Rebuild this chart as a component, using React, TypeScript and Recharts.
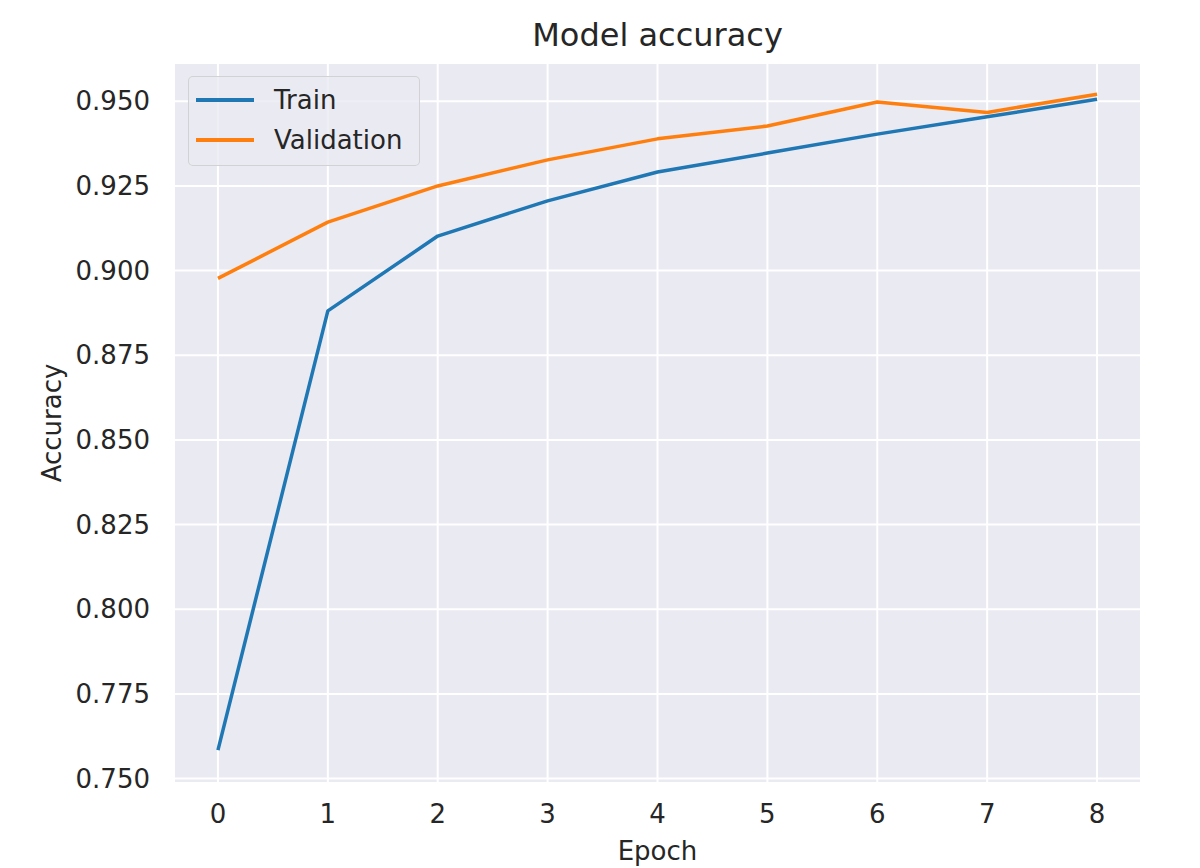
import React from 'react';
import { LineChart, Line, XAxis, YAxis, CartesianGrid, Legend } from 'recharts';

const epochs = [0, 1, 2, 3, 4, 5, 6, 7, 8];
const trainAcc = [0.7584, 0.8881, 0.9102, 0.9206, 0.9291, 0.9347, 0.9403, 0.9454, 0.9506];
const valAcc = [0.8977, 0.9143, 0.925, 0.9327, 0.9389, 0.9427, 0.9498, 0.9467, 0.9521];

const xTicks = [0, 1, 2, 3, 4, 5, 6, 7, 8];
const yTicks = [0.75, 0.775, 0.8, 0.825, 0.85, 0.875, 0.9, 0.925, 0.95];

const TEXT = '#262626';
const FONT = '"DejaVu Sans", sans-serif';

const rows = epochs.map((e, i) => ({ epoch: e, train: trainAcc[i], val: valAcc[i] }));

const series = [
  { key: 'train', name: 'Train', color: '#1f77b4' },
  { key: 'val', name: 'Validation', color: '#ff7f0e' },
];

// matplotlib-style legend box (framed, slightly rounded)
function LegendBox() {
  return (
    <div
      style={{
        boxSizing: 'border-box',
        width: 232,
        height: 90,
        paddingTop: 3,
        border: '1.5px solid rgba(204,204,204,0.8)',
        borderRadius: 5,
        background: 'rgba(234,234,242,0.8)',
        fontFamily: FONT,
        fontSize: 26,
        color: TEXT,
      }}
    >
      {series.map((s) => (
        <div key={s.key} style={{ display: 'flex', alignItems: 'center', height: 40 }}>
          <div style={{ width: 58, height: 3.5, marginLeft: 7, background: s.color }} />
          <span style={{ marginLeft: 20, lineHeight: '40px' }}>{s.name}</span>
        </div>
      ))}
    </div>
  );
}

export default function App() {
  return (
    <div
      style={{
        position: 'absolute',
        left: 0,
        top: 0,
        width: 1200,
        height: 868,
        background: '#fff',
        fontFamily: FONT,
      }}
    >
      <div
        style={{
          position: 'absolute',
          left: 174,
          width: 967,
          top: 19,
          textAlign: 'center',
          fontSize: 32,
          lineHeight: '32px',
          color: TEXT,
        }}
      >
        Model accuracy
      </div>
      <LineChart
        width={1200}
        height={868}
        data={rows}
        margin={{ top: 63, right: 59, bottom: 0, left: 24 }}
      >
        <CartesianGrid fill="#eaeaf2" stroke="#ffffff" strokeWidth={2} />
        <XAxis
          dataKey="epoch"
          type="number"
          domain={[-0.4, 8.4]}
          ticks={xTicks}
          allowDataOverflow
          height={85}
          axisLine={false}
          tickLine={false}
          tickSize={0}
          tickMargin={22}
          tick={{ fill: TEXT, fontSize: 26 }}
          label={{ value: 'Epoch', position: 'insideBottom', offset: 8, fill: TEXT, fontSize: 26 }}
        />
        <YAxis
          type="number"
          domain={[0.7487, 0.9613]}
          ticks={yTicks}
          allowDataOverflow
          width={150}
          axisLine={false}
          tickLine={false}
          tickSize={0}
          tickMargin={24}
          tickFormatter={(v: number) => v.toFixed(3)}
          tick={{ fill: TEXT, fontSize: 26 }}
          label={{
            value: 'Accuracy',
            angle: -90,
            position: 'insideLeft',
            offset: 28,
            textAnchor: 'middle',
            fill: TEXT,
            fontSize: 26,
          }}
        />
        <Legend
          layout="vertical"
          align="center"
          verticalAlign="middle"
          content={() => <LegendBox />}
          wrapperStyle={{ left: 188, top: 76, width: 232, height: 90, right: 'auto', bottom: 'auto' }}
        />
        {series.map((s) => (
          <Line
            key={s.key}
            type="linear"
            dataKey={s.key}
            name={s.name}
            stroke={s.color}
            strokeWidth={3.5}
            strokeLinejoin="round"
            dot={false}
            activeDot={false}
            isAnimationActive={false}
          />
        ))}
      </LineChart>
    </div>
  );
}
